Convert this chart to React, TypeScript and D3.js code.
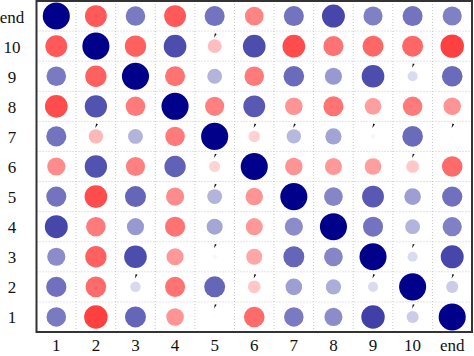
import React from "react";
import * as d3 from "d3";

const colLabels = ["1", "2", "3", "4", "5", "6", "7", "8", "9", "10", "end"];
const rowLabels = ["end", "10", "9", "8", "7", "6", "5", "4", "3", "2", "1"];

const rowEnd = [1, -0.65, 0.52, -0.65, 0.55, -0.48, 0.55, 0.72, 0.5, 0.55, 0.5];
const row10 = [-0.65, 1, -0.62, 0.7, -0.26, 0.7, -0.7, -0.55, -0.6, -0.6, -0.75];
const row9 = [0.52, -0.62, 1, -0.55, 0.3, -0.52, 0.58, 0.4, 0.7, 0.14, 0.58];
const row8 = [-0.7, 0.68, -0.52, 1, -0.5, 0.65, -0.42, -0.55, -0.38, -0.52, -0.42];
const row7 = [0.55, -0.28, 0.3, -0.52, 1, -0.18, 0.28, 0.36, 0.03, 0.58, 0.01];
const row6 = [-0.45, 0.68, -0.5, 0.62, -0.17, 1, -0.42, -0.4, -0.38, -0.22, -0.58];
const row5 = [0.55, -0.7, 0.6, -0.45, 0.3, -0.42, 1, 0.48, 0.65, 0.38, 0.56];
const row4 = [0.72, -0.52, 0.4, -0.55, 0.35, -0.4, 0.45, 1, 0.55, 0.3, 0.5];
const row3 = [0.45, -0.62, 0.7, -0.4, 0.03, -0.35, 0.6, 0.48, 1, 0.14, 0.72];
const row2 = [0.56, -0.58, 0.15, -0.55, 0.6, -0.22, 0.38, 0.32, 0.14, 1, 0.2];
const row1 = [0.52, -0.75, 0.6, -0.42, 0.01, -0.58, 0.52, 0.45, 0.75, 0.2, 1];

const matrix = [rowEnd, row10, row9, row8, row7, row6, row5, row4, row3, row2, row1];

// cells flagged with a small black mark: [row label, column label]
const markedCells: [string, string][] = [
  ["10", "5"], ["9", "10"],
  ["7", "2"], ["7", "6"], ["7", "7"], ["7", "9"], ["7", "end"],
  ["6", "5"], ["6", "10"], ["5", "5"],
  ["3", "5"], ["3", "10"],
  ["2", "3"], ["2", "6"], ["2", "9"], ["2", "end"],
  ["1", "5"], ["1", "10"],
];

const W = 474;
const H = 356;
const left = 36.5;
const right = 472;
const top = 1;
const bottom = 332;

export default function App() {
  const x = d3.scaleBand<string>().domain(colLabels).range([left, right]).padding(0);
  const y = d3.scaleBand<string>().domain(rowLabels).range([top, bottom]).padding(0);
  const maxR = 0.45 * Math.min(x.bandwidth(), y.bandwidth());
  const rScale = d3.scaleSqrt().domain([0, 1]).range([0, maxR]);
  const posColor = d3.scaleLinear<string>().domain([0, 1]).range(["#ffffff", "#00008b"]).interpolate(d3.interpolateRgb);
  const negColor = d3.scaleLinear<string>().domain([0, 1]).range(["#ffffff", "#ff0000"]).interpolate(d3.interpolateRgb);
  const color = (v: number) => (v >= 0 ? posColor(v) : negColor(-v));

  const gridX = colLabels.slice(1).map((c) => x(c)!);
  const gridY = rowLabels.slice(1).map((r) => y(r)!);

  return (
    <svg width={W} height={H} style={{ position: "absolute", left: 0, top: 0, display: "block", background: "#fff" }}>
      <rect x={0} y={0} width={W} height={H} fill="#fff" />
      {gridX.map((gx, i) => (
        <line key={"gx" + i} x1={gx} x2={gx} y1={top} y2={bottom} stroke="#c8c8c8" strokeWidth={1} strokeDasharray="1,2" />
      ))}
      {gridY.map((gy, i) => (
        <line key={"gy" + i} x1={left} x2={right} y1={gy} y2={gy} stroke="#c8c8c8" strokeWidth={1} strokeDasharray="1,2" />
      ))}
      {matrix.map((row, ri) =>
        row.map((v, ci) => {
          const cx = x(colLabels[ci])! + x.bandwidth() / 2;
          const cy = y(rowLabels[ri])! + y.bandwidth() / 2;
          return <circle key={ri + "-" + ci} cx={cx} cy={cy} r={rScale(Math.abs(v))} fill={color(v)} />;
        })
      )}
      {markedCells.map(([r, c], i) => {
        const cx = x(c)! + x.bandwidth() / 2;
        const cy = y(r)! + y.bandwidth() / 2;
        const pts = [
          [cx + 0.2, cy - 12.8],
          [cx + 2.0, cy - 12.2],
          [cx - 0.6, cy - 8.4],
        ]
          .map((p) => p.join(","))
          .join(" ");
        return <polygon key={"m" + i} points={pts} fill="#111" />;
      })}
      <rect x={left} y={top} width={right - left} height={bottom - top} fill="none" stroke="#333" strokeWidth={2} />
      {rowLabels.map((r) => (
        <text
          key={"yl" + r}
          x={12}
          y={y(r)! + y.bandwidth() / 2 + 6.5}
          textAnchor="middle"
          fontFamily="'Liberation Serif', 'DejaVu Serif', serif"
          fontSize={17}
          fill="#111"
        >
          {r}
        </text>
      ))}
      {colLabels.map((c) => (
        <text
          key={"xl" + c}
          x={x(c)! + x.bandwidth() / 2}
          y={351}
          textAnchor="middle"
          fontFamily="'Liberation Serif', 'DejaVu Serif', serif"
          fontSize={17}
          fill="#111"
        >
          {c}
        </text>
      ))}
    </svg>
  );
}
